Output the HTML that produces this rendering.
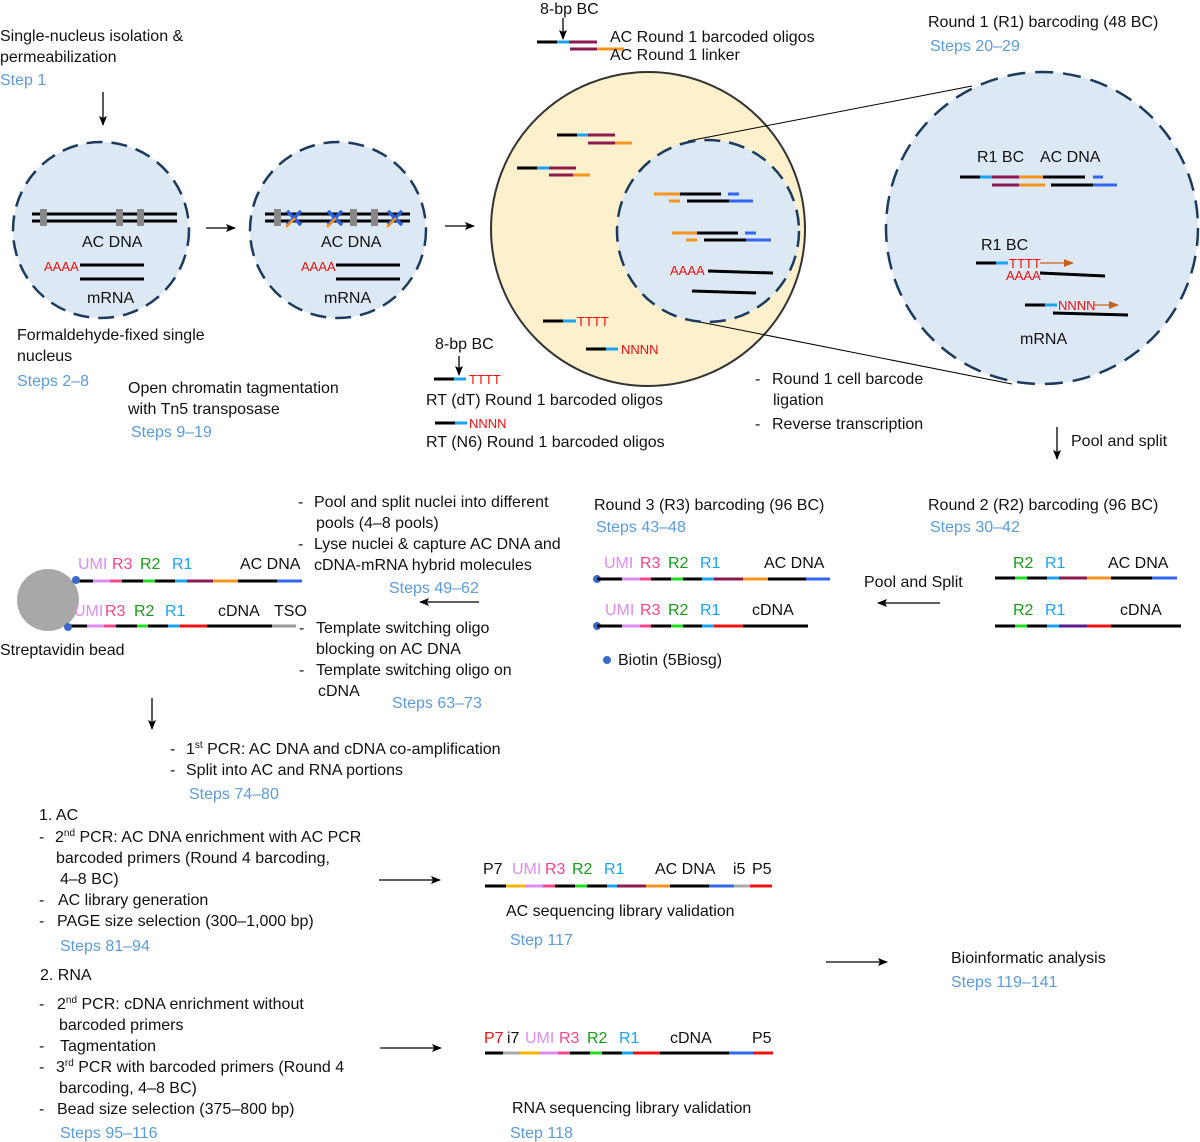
<!DOCTYPE html>
<html><head><meta charset="utf-8"><style>
html,body{margin:0;padding:0;background:#fff}
svg{display:block}
text{font-family:"Liberation Sans",Arial,sans-serif;font-size:16px;fill:#111}
.s{fill:#5b9bd8}
.r{fill:#ee1111}
.sm{font-size:13px}
</style></head><body>
<svg width="1200" height="1142" viewBox="0 0 1200 1142" xmlns="http://www.w3.org/2000/svg">
<defs>
<marker id="ah" markerWidth="10" markerHeight="8" refX="9" refY="4" orient="auto" markerUnits="userSpaceOnUse"><path d="M0,0 L10,4 L0,8 L2,4 z" fill="#000"/></marker>
<marker id="ao" markerWidth="10" markerHeight="8" refX="9" refY="4" orient="auto" markerUnits="userSpaceOnUse"><path d="M0,0 L10,4 L0,8 z" fill="#c8601a"/></marker>
</defs>
<g stroke-width="3" fill="none">

<text x="0" y="41" stroke="none">Single-nucleus isolation &amp;</text>
<text x="0" y="62" stroke="none">permeabilization</text>
<text x="0" y="85" class="s" stroke="none">Step 1</text>
<line x1="103" y1="92" x2="103" y2="125" stroke="#000" stroke-width="1.3" marker-end="url(#ah)"/>

<circle cx="101" cy="230" r="88" fill="#dde8f5" stroke="#1c3a5e" stroke-width="2.5" stroke-dasharray="16,9"/>
<line x1="32" y1="214" x2="177" y2="214" stroke="#000"/>
<line x1="32" y1="221" x2="177" y2="221" stroke="#000"/>
<rect x="40" y="209" width="7" height="17" fill="#888" stroke="none"/>
<rect x="116" y="209" width="7" height="17" fill="#888" stroke="none"/>
<rect x="137" y="209" width="7" height="17" fill="#888" stroke="none"/>
<text x="82" y="247" stroke="none">AC DNA</text>
<text x="44" y="271" class="r sm" stroke="none">AAAA</text>
<line x1="80" y1="265" x2="144" y2="265" stroke="#000"/>
<line x1="80" y1="279" x2="144" y2="279" stroke="#000"/>
<text x="87" y="303" stroke="none">mRNA</text>

<line x1="206" y1="228" x2="235" y2="228" stroke="#000" stroke-width="1.3" marker-end="url(#ah)"/>

<circle cx="338" cy="230" r="88" fill="#dde8f5" stroke="#1c3a5e" stroke-width="2.5" stroke-dasharray="16,9"/>
<line x1="265" y1="214" x2="410" y2="214" stroke="#000"/>
<line x1="265" y1="221" x2="410" y2="221" stroke="#000"/>
<rect x="274" y="209" width="7" height="17" fill="#888" stroke="none"/>
<rect x="350" y="209" width="7" height="17" fill="#888" stroke="none"/>
<rect x="371" y="209" width="7" height="17" fill="#888" stroke="none"/>
<g stroke-width="3.5">
<path d="M287,211 l14,14 M301,211 l-14,14" stroke="#2a5fd6"/><path d="M286,227 l9,-9" stroke="#f7941d" stroke-width="2.5"/>
<path d="M328,211 l14,14 M342,211 l-14,14" stroke="#2a5fd6"/><path d="M327,227 l9,-9" stroke="#f7941d" stroke-width="2.5"/>
<path d="M388,211 l14,14 M402,211 l-14,14" stroke="#2a5fd6"/><path d="M387,227 l9,-9" stroke="#f7941d" stroke-width="2.5"/>
</g>
<text x="321" y="247" stroke="none">AC DNA</text>
<text x="301" y="271" class="r sm" stroke="none">AAAA</text>
<line x1="336" y1="265" x2="400" y2="265" stroke="#000"/>
<line x1="336" y1="279" x2="400" y2="279" stroke="#000"/>
<text x="324" y="303" stroke="none">mRNA</text>

<line x1="445" y1="226" x2="474" y2="226" stroke="#000" stroke-width="1.3" marker-end="url(#ah)"/>

<text x="17" y="340" stroke="none">Formaldehyde-fixed single</text>
<text x="17" y="361" stroke="none">nucleus</text>
<text x="17" y="386" class="s" stroke="none">Steps 2–8</text>
<text x="128" y="393" stroke="none">Open chromatin tagmentation</text>
<text x="128" y="414" stroke="none">with Tn5 transposase</text>
<text x="131" y="437" class="s" stroke="none">Steps 9–19</text>

<text x="540" y="14" stroke="none">8-bp BC</text>
<line x1="563" y1="18" x2="563" y2="39" stroke="#000" stroke-width="1.3" marker-end="url(#ah)"/>
<line x1="537" y1="42" x2="557" y2="42" stroke="#000"/>
<line x1="557" y1="42" x2="569" y2="42" stroke="#1aa3f0"/>
<line x1="569" y1="42" x2="597" y2="42" stroke="#8b1a4f"/>
<line x1="570" y1="49" x2="597" y2="49" stroke="#8b1a4f"/>
<line x1="597" y1="49" x2="624" y2="49" stroke="#f7941d"/>
<text x="610" y="42" stroke="none">AC Round 1 barcoded  oligos</text>
<text x="610" y="60" stroke="none">AC Round 1 linker</text>

<circle cx="648" cy="229" r="157" fill="#fdf0cc" stroke="#333" stroke-width="2"/>
<line x1="557" y1="135" x2="577" y2="135" stroke="#000"/>
<line x1="577" y1="135" x2="588" y2="135" stroke="#1aa3f0"/>
<line x1="588" y1="135" x2="615" y2="135" stroke="#8b1a4f"/>
<line x1="588" y1="143" x2="615" y2="143" stroke="#8b1a4f"/>
<line x1="615" y1="143" x2="632" y2="143" stroke="#f7941d"/>
<line x1="517" y1="168" x2="537" y2="168" stroke="#000"/>
<line x1="537" y1="168" x2="549" y2="168" stroke="#1aa3f0"/>
<line x1="549" y1="168" x2="576" y2="168" stroke="#8b1a4f"/>
<line x1="549" y1="175" x2="573" y2="175" stroke="#8b1a4f"/>
<line x1="573" y1="175" x2="590" y2="175" stroke="#f7941d"/>
<line x1="543" y1="321" x2="563" y2="321" stroke="#000"/>
<line x1="563" y1="321" x2="576" y2="321" stroke="#1aa3f0"/>
<text x="577" y="326" class="r sm" stroke="none">TTTT</text>
<line x1="586" y1="349" x2="606" y2="349" stroke="#000"/>
<line x1="606" y1="349" x2="618" y2="349" stroke="#1aa3f0"/>
<text x="621" y="354" class="r sm" stroke="none">NNNN</text>

<line x1="688" y1="141" x2="972" y2="86" stroke="#000" stroke-width="1"/>
<line x1="690" y1="320" x2="1012" y2="384" stroke="#000" stroke-width="1"/>

<circle cx="708" cy="231" r="91" fill="#dde8f5" stroke="#1c3a5e" stroke-width="2.5" stroke-dasharray="16,9"/>
<line x1="654" y1="194" x2="680" y2="194" stroke="#f7941d"/>
<line x1="680" y1="194" x2="721" y2="194" stroke="#000"/>
<line x1="728" y1="194" x2="739" y2="194" stroke="#3366ee"/>
<line x1="669" y1="201" x2="680" y2="201" stroke="#f7941d"/>
<line x1="687" y1="201" x2="729" y2="201" stroke="#000"/>
<line x1="729" y1="201" x2="753" y2="201" stroke="#3366ee"/>
<line x1="672" y1="233" x2="697" y2="233" stroke="#f7941d"/>
<line x1="697" y1="233" x2="738" y2="233" stroke="#000"/>
<line x1="745" y1="233" x2="756" y2="233" stroke="#3366ee"/>
<line x1="686" y1="240" x2="697" y2="240" stroke="#f7941d"/>
<line x1="704" y1="240" x2="746" y2="240" stroke="#000"/>
<line x1="746" y1="240" x2="771" y2="240" stroke="#3366ee"/>
<text x="670" y="275" class="r sm" stroke="none">AAAA</text>
<line x1="708" y1="271" x2="773" y2="273" stroke="#000"/>
<line x1="692" y1="291" x2="756" y2="293" stroke="#000"/>

<text x="435" y="349" stroke="none">8-bp BC</text>
<line x1="459" y1="356" x2="459" y2="375" stroke="#000" stroke-width="1.3" marker-end="url(#ah)"/>
<line x1="434" y1="379" x2="454" y2="379" stroke="#000"/>
<line x1="454" y1="379" x2="466" y2="379" stroke="#1aa3f0"/>
<text x="469" y="384" class="r sm" stroke="none">TTTT</text>
<text x="426" y="405" stroke="none">RT (dT) Round 1 barcoded oligos</text>
<line x1="435" y1="423" x2="455" y2="423" stroke="#000"/>
<line x1="455" y1="423" x2="467" y2="423" stroke="#1aa3f0"/>
<text x="469" y="428" class="r sm" stroke="none">NNNN</text>
<text x="426" y="447" stroke="none">RT (N6) Round 1 barcoded oligos</text>

<text x="755" y="384" stroke="none">-</text>
<text x="772" y="384" stroke="none">Round 1 cell barcode</text>
<text x="773" y="405" stroke="none">ligation</text>
<text x="755" y="429" stroke="none">-</text>
<text x="772" y="429" stroke="none">Reverse transcription</text>

<text x="928" y="27" stroke="none">Round 1 (R1) barcoding (48 BC)</text>
<text x="930" y="51" class="s" stroke="none">Steps 20–29</text>
<circle cx="1042" cy="228" r="156" fill="#dde8f5" stroke="#1c3a5e" stroke-width="2.5" stroke-dasharray="18,10"/>
<text x="977" y="162" stroke="none">R1 BC</text>
<text x="1040" y="162" stroke="none">AC DNA</text>
<line x1="960" y1="177" x2="980" y2="177" stroke="#000"/>
<line x1="980" y1="177" x2="992" y2="177" stroke="#1aa3f0"/>
<line x1="992" y1="177" x2="1019" y2="177" stroke="#8b1a4f"/>
<line x1="1019" y1="177" x2="1043" y2="177" stroke="#f7941d"/>
<line x1="1043" y1="177" x2="1085" y2="177" stroke="#000"/>
<line x1="1093" y1="177" x2="1103" y2="177" stroke="#3366ee"/>
<line x1="992" y1="185" x2="1019" y2="185" stroke="#8b1a4f"/>
<line x1="1019" y1="185" x2="1045" y2="185" stroke="#f7941d"/>
<line x1="1051" y1="185" x2="1093" y2="185" stroke="#000"/>
<line x1="1093" y1="185" x2="1117" y2="185" stroke="#3366ee"/>
<text x="981" y="250" stroke="none">R1 BC</text>
<line x1="976" y1="263" x2="996" y2="263" stroke="#000"/>
<line x1="996" y1="263" x2="1008" y2="263" stroke="#1aa3f0"/>
<text x="1009" y="268" class="r sm" stroke="none">TTTT</text>
<line x1="1040" y1="263" x2="1073" y2="263" stroke="#c8601a" stroke-width="1.3" marker-end="url(#ao)"/>
<text x="1006" y="280" class="r sm" stroke="none">AAAA</text>
<line x1="1040" y1="273" x2="1105" y2="276" stroke="#000"/>
<line x1="1025" y1="305" x2="1045" y2="305" stroke="#000"/>
<line x1="1045" y1="305" x2="1057" y2="305" stroke="#1aa3f0"/>
<text x="1058" y="310" class="r sm" stroke="none">NNNN</text>
<line x1="1093" y1="305" x2="1118" y2="305" stroke="#c8601a" stroke-width="1.3" marker-end="url(#ao)"/>
<line x1="1053" y1="313" x2="1128" y2="315" stroke="#000"/>
<text x="1020" y="344" stroke="none">mRNA</text>

<line x1="1057" y1="427" x2="1057" y2="459" stroke="#000" stroke-width="1.3" marker-end="url(#ah)"/>
<text x="1071" y="446" stroke="none">Pool and split</text>

<text x="928" y="510" stroke="none">Round 2 (R2) barcoding (96 BC)</text>
<text x="930" y="532" class="s" stroke="none">Steps 30–42</text>
<text x="1013" y="568" stroke="none" style="fill:#1a9a1a">R2</text>
<text x="1045" y="568" stroke="none" style="fill:#1aa3f0">R1</text>
<text x="1108" y="568" stroke="none">AC  DNA</text>
<line x1="995" y1="578" x2="1015" y2="578" stroke="#000"/>
<line x1="1015" y1="578" x2="1027" y2="578" stroke="#22dd22"/>
<line x1="1027" y1="578" x2="1047" y2="578" stroke="#000"/>
<line x1="1047" y1="578" x2="1059" y2="578" stroke="#1aa3f0"/>
<line x1="1059" y1="578" x2="1087" y2="578" stroke="#8b1a4f"/>
<line x1="1087" y1="578" x2="1111" y2="578" stroke="#f7941d"/>
<line x1="1111" y1="578" x2="1152" y2="578" stroke="#000"/>
<line x1="1152" y1="578" x2="1177" y2="578" stroke="#3366ee"/>
<text x="1013" y="615" stroke="none" style="fill:#1a9a1a">R2</text>
<text x="1045" y="615" stroke="none" style="fill:#1aa3f0">R1</text>
<text x="1120" y="615" stroke="none">cDNA</text>
<line x1="995" y1="626" x2="1015" y2="626" stroke="#000"/>
<line x1="1015" y1="626" x2="1027" y2="626" stroke="#22dd22"/>
<line x1="1027" y1="626" x2="1047" y2="626" stroke="#000"/>
<line x1="1047" y1="626" x2="1059" y2="626" stroke="#1aa3f0"/>
<line x1="1059" y1="626" x2="1087" y2="626" stroke="#5a1a8c"/>
<line x1="1087" y1="626" x2="1111" y2="626" stroke="#ee1111"/>
<line x1="1111" y1="626" x2="1181" y2="626" stroke="#000"/>

<text x="864" y="587" stroke="none">Pool and Split</text>
<line x1="940" y1="603" x2="878" y2="603" stroke="#000" stroke-width="1.3" marker-end="url(#ah)"/>

<text x="594" y="510" stroke="none">Round 3 (R3) barcoding (96 BC)</text>
<text x="596" y="532" class="s" stroke="none">Steps 43–48</text>
<text x="604" y="568" stroke="none" style="fill:#d98ef0">UMI</text>
<text x="640" y="568" stroke="none" style="fill:#f0468c">R3</text>
<text x="668" y="568" stroke="none" style="fill:#1a9a1a">R2</text>
<text x="700" y="568" stroke="none" style="fill:#1aa3f0">R1</text>
<text x="764" y="568" stroke="none">AC  DNA</text>
<circle cx="597" cy="579" r="4" fill="#3a6bc8" stroke="none"/>
<line x1="597" y1="579" x2="622" y2="579" stroke="#000"/>
<line x1="622" y1="579" x2="640" y2="579" stroke="#d98ef0"/>
<line x1="640" y1="579" x2="651" y2="579" stroke="#f0468c"/>
<line x1="651" y1="579" x2="671" y2="579" stroke="#000"/>
<line x1="671" y1="579" x2="683" y2="579" stroke="#22dd22"/>
<line x1="683" y1="579" x2="702" y2="579" stroke="#000"/>
<line x1="702" y1="579" x2="714" y2="579" stroke="#1aa3f0"/>
<line x1="714" y1="579" x2="743" y2="579" stroke="#8b1a4f"/>
<line x1="743" y1="579" x2="768" y2="579" stroke="#f7941d"/>
<line x1="768" y1="579" x2="806" y2="579" stroke="#000"/>
<line x1="806" y1="579" x2="830" y2="579" stroke="#3366ee"/>
<text x="605" y="615" stroke="none" style="fill:#d98ef0">UMI</text>
<text x="640" y="615" stroke="none" style="fill:#f0468c">R3</text>
<text x="668" y="615" stroke="none" style="fill:#1a9a1a">R2</text>
<text x="700" y="615" stroke="none" style="fill:#1aa3f0">R1</text>
<text x="752" y="615" stroke="none">cDNA</text>
<circle cx="597" cy="626" r="4" fill="#3a6bc8" stroke="none"/>
<line x1="597" y1="626" x2="622" y2="626" stroke="#000"/>
<line x1="622" y1="626" x2="640" y2="626" stroke="#d98ef0"/>
<line x1="640" y1="626" x2="651" y2="626" stroke="#f0468c"/>
<line x1="651" y1="626" x2="671" y2="626" stroke="#000"/>
<line x1="671" y1="626" x2="683" y2="626" stroke="#22dd22"/>
<line x1="683" y1="626" x2="702" y2="626" stroke="#000"/>
<line x1="702" y1="626" x2="714" y2="626" stroke="#1aa3f0"/>
<line x1="714" y1="626" x2="743" y2="626" stroke="#ee1111"/>
<line x1="743" y1="626" x2="808" y2="626" stroke="#000"/>
<circle cx="607" cy="660" r="4" fill="#3a6bc8" stroke="none"/>
<text x="618" y="665" stroke="none">Biotin (5Biosg)</text>

<text x="298" y="507" stroke="none">-</text>
<text x="314" y="507" stroke="none">Pool and split nuclei into different</text>
<text x="316" y="528" stroke="none">pools (4–8 pools)</text>
<text x="298" y="549" stroke="none">-</text>
<text x="314" y="549" stroke="none">Lyse nuclei &amp; capture AC DNA and</text>
<text x="314" y="570" stroke="none">cDNA-mRNA hybrid molecules</text>
<text x="389" y="593" class="s" stroke="none">Steps 49–62</text>
<line x1="479" y1="602" x2="420" y2="602" stroke="#000" stroke-width="1.3" marker-end="url(#ah)"/>
<text x="299" y="633" stroke="none">-</text>
<text x="316" y="633" stroke="none">Template switching oligo</text>
<text x="316" y="654" stroke="none">blocking on AC DNA</text>
<text x="299" y="675" stroke="none">-</text>
<text x="316" y="675" stroke="none">Template switching oligo on</text>
<text x="318" y="696" stroke="none">cDNA</text>
<text x="392" y="708" class="s" stroke="none">Steps 63–73</text>

<circle cx="48" cy="600" r="31" fill="#a8a8a8" stroke="none"/>
<text x="78" y="569" stroke="none" style="fill:#d98ef0">UMI</text>
<text x="112" y="569" stroke="none" style="fill:#f0468c">R3</text>
<text x="140" y="569" stroke="none" style="fill:#1a9a1a">R2</text>
<text x="172" y="569" stroke="none" style="fill:#1aa3f0">R1</text>
<text x="240" y="569" stroke="none">AC DNA</text>
<line x1="75" y1="581" x2="93" y2="581" stroke="#000"/>
<line x1="93" y1="581" x2="110" y2="581" stroke="#d98ef0"/>
<line x1="110" y1="581" x2="122" y2="581" stroke="#f0468c"/>
<line x1="122" y1="581" x2="143" y2="581" stroke="#000"/>
<line x1="143" y1="581" x2="155" y2="581" stroke="#22dd22"/>
<line x1="155" y1="581" x2="175" y2="581" stroke="#000"/>
<line x1="175" y1="581" x2="187" y2="581" stroke="#1aa3f0"/>
<line x1="187" y1="581" x2="213" y2="581" stroke="#8b1a4f"/>
<line x1="213" y1="581" x2="238" y2="581" stroke="#f7941d"/>
<line x1="238" y1="581" x2="277" y2="581" stroke="#000"/>
<line x1="277" y1="581" x2="302" y2="581" stroke="#3366ee"/>
<circle cx="76" cy="580" r="4" fill="#3a6bc8" stroke="none"/>
<text x="74" y="616" stroke="none" style="fill:#d98ef0">UMI</text>
<text x="105" y="616" stroke="none" style="fill:#f0468c">R3</text>
<text x="134" y="616" stroke="none" style="fill:#1a9a1a">R2</text>
<text x="165" y="616" stroke="none" style="fill:#1aa3f0">R1</text>
<text x="218" y="616" stroke="none">cDNA</text>
<text x="274" y="616" stroke="none">TSO</text>
<line x1="70" y1="626" x2="87" y2="626" stroke="#000"/>
<line x1="87" y1="626" x2="104" y2="626" stroke="#d98ef0"/>
<line x1="104" y1="626" x2="116" y2="626" stroke="#f0468c"/>
<line x1="116" y1="626" x2="137" y2="626" stroke="#000"/>
<line x1="137" y1="626" x2="148" y2="626" stroke="#22dd22"/>
<line x1="148" y1="626" x2="168" y2="626" stroke="#000"/>
<line x1="168" y1="626" x2="180" y2="626" stroke="#1aa3f0"/>
<line x1="180" y1="626" x2="207" y2="626" stroke="#ee1111"/>
<line x1="207" y1="626" x2="272" y2="626" stroke="#000"/>
<line x1="272" y1="626" x2="296" y2="626" stroke="#999"/>
<circle cx="68" cy="627" r="4" fill="#3a6bc8" stroke="none"/>
<text x="0" y="655" stroke="none">Streptavidin bead</text>

<line x1="152" y1="698" x2="152" y2="729" stroke="#000" stroke-width="1.3" marker-end="url(#ah)"/>

<text x="170" y="754" stroke="none">-</text>
<text x="186" y="754" stroke="none">1<tspan font-size="10" dy="-6">st</tspan><tspan dy="6"> PCR: AC DNA and cDNA co-amplification</tspan></text>
<text x="170" y="775" stroke="none">-</text>
<text x="186" y="775" stroke="none">Split into AC and RNA portions</text>
<text x="189" y="799" class="s" stroke="none">Steps 74–80</text>
<text x="39" y="820" stroke="none">1. AC</text>
<text x="39" y="842" stroke="none">-</text>
<text x="55" y="842" stroke="none">2<tspan font-size="10" dy="-6">nd</tspan><tspan dy="6"> PCR: AC DNA enrichment with AC PCR</tspan></text>
<text x="56" y="863" stroke="none">barcoded primers (Round 4 barcoding,</text>
<text x="60" y="884" stroke="none">4–8 BC)</text>
<text x="39" y="905" stroke="none">-</text>
<text x="58" y="905" stroke="none">AC library generation</text>
<text x="39" y="926" stroke="none">-</text>
<text x="57" y="926" stroke="none">PAGE size selection (300–1,000 bp)</text>
<text x="60" y="951" class="s" stroke="none">Steps 81–94</text>
<text x="40" y="980" stroke="none">2. RNA</text>
<text x="39" y="1009" stroke="none">-</text>
<text x="57" y="1009" stroke="none">2<tspan font-size="10" dy="-6">nd</tspan><tspan dy="6"> PCR: cDNA enrichment without</tspan></text>
<text x="59" y="1030" stroke="none">barcoded primers</text>
<text x="39" y="1051" stroke="none">-</text>
<text x="60" y="1051" stroke="none">Tagmentation</text>
<text x="39" y="1072" stroke="none">-</text>
<text x="56" y="1072" stroke="none">3<tspan font-size="10" dy="-6">rd</tspan><tspan dy="6"> PCR with barcoded primers (Round 4</tspan></text>
<text x="59" y="1093" stroke="none">barcoding, 4–8 BC)</text>
<text x="39" y="1114" stroke="none">-</text>
<text x="57" y="1114" stroke="none">Bead size selection (375–800 bp)</text>
<text x="60" y="1138" class="s" stroke="none">Steps 95–116</text>

<line x1="379" y1="880" x2="440" y2="880" stroke="#000" stroke-width="1.3" marker-end="url(#ah)"/>
<line x1="380" y1="1048" x2="441" y2="1048" stroke="#000" stroke-width="1.3" marker-end="url(#ah)"/>

<text x="483" y="874" stroke="none">P7</text>
<text x="512" y="874" stroke="none" style="fill:#d98ef0">UMI</text>
<text x="545" y="874" stroke="none" style="fill:#f0468c">R3</text>
<text x="572" y="874" stroke="none" style="fill:#1a9a1a">R2</text>
<text x="604" y="874" stroke="none" style="fill:#1aa3f0">R1</text>
<text x="655" y="874" stroke="none">AC  DNA</text>
<text x="733" y="874" stroke="none">i5</text>
<text x="752" y="874" stroke="none">P5</text>
<line x1="485" y1="886" x2="506" y2="886" stroke="#000"/>
<line x1="506" y1="886" x2="526" y2="886" stroke="#f5b400"/>
<line x1="526" y1="886" x2="543" y2="886" stroke="#d98ef0"/>
<line x1="543" y1="886" x2="555" y2="886" stroke="#f0468c"/>
<line x1="555" y1="886" x2="575" y2="886" stroke="#000"/>
<line x1="575" y1="886" x2="587" y2="886" stroke="#22dd22"/>
<line x1="587" y1="886" x2="607" y2="886" stroke="#000"/>
<line x1="607" y1="886" x2="617" y2="886" stroke="#1aa3f0"/>
<line x1="617" y1="886" x2="646" y2="886" stroke="#8b1a4f"/>
<line x1="646" y1="886" x2="670" y2="886" stroke="#f7941d"/>
<line x1="670" y1="886" x2="709" y2="886" stroke="#000"/>
<line x1="709" y1="886" x2="734" y2="886" stroke="#3366ee"/>
<line x1="734" y1="886" x2="750" y2="886" stroke="#aaa"/>
<line x1="750" y1="886" x2="772" y2="886" stroke="#ee1111"/>
<text x="506" y="916" stroke="none">AC sequencing library validation</text>
<text x="510" y="945" class="s" stroke="none">Step 117</text>

<line x1="826" y1="962" x2="887" y2="962" stroke="#000" stroke-width="1.3" marker-end="url(#ah)"/>
<text x="951" y="963" stroke="none">Bioinformatic analysis</text>
<text x="951" y="987" class="s" stroke="none">Steps 119–141</text>

<text x="484" y="1043" stroke="none" style="fill:#ee1111">P7</text>
<text x="507" y="1043" stroke="none">i7</text>
<text x="525" y="1043" stroke="none" style="fill:#d98ef0">UMI</text>
<text x="559" y="1043" stroke="none" style="fill:#f0468c">R3</text>
<text x="587" y="1043" stroke="none" style="fill:#1a9a1a">R2</text>
<text x="619" y="1043" stroke="none" style="fill:#1aa3f0">R1</text>
<text x="670" y="1043" stroke="none">cDNA</text>
<text x="752" y="1043" stroke="none">P5</text>
<line x1="485" y1="1053" x2="503" y2="1053" stroke="#000"/>
<line x1="503" y1="1053" x2="520" y2="1053" stroke="#aaa"/>
<line x1="520" y1="1053" x2="540" y2="1053" stroke="#f5b400"/>
<line x1="540" y1="1053" x2="558" y2="1053" stroke="#d98ef0"/>
<line x1="558" y1="1053" x2="570" y2="1053" stroke="#f0468c"/>
<line x1="570" y1="1053" x2="590" y2="1053" stroke="#000"/>
<line x1="590" y1="1053" x2="602" y2="1053" stroke="#22dd22"/>
<line x1="602" y1="1053" x2="622" y2="1053" stroke="#000"/>
<line x1="622" y1="1053" x2="633" y2="1053" stroke="#1aa3f0"/>
<line x1="633" y1="1053" x2="660" y2="1053" stroke="#ee1111"/>
<line x1="660" y1="1053" x2="729" y2="1053" stroke="#000"/>
<line x1="729" y1="1053" x2="753" y2="1053" stroke="#3366ee"/>
<line x1="753" y1="1053" x2="773" y2="1053" stroke="#ee1111"/>
<text x="512" y="1113" stroke="none">RNA sequencing library validation</text>
<text x="510" y="1138" class="s" stroke="none">Step 118</text>
</g>
</svg>
</body></html>
